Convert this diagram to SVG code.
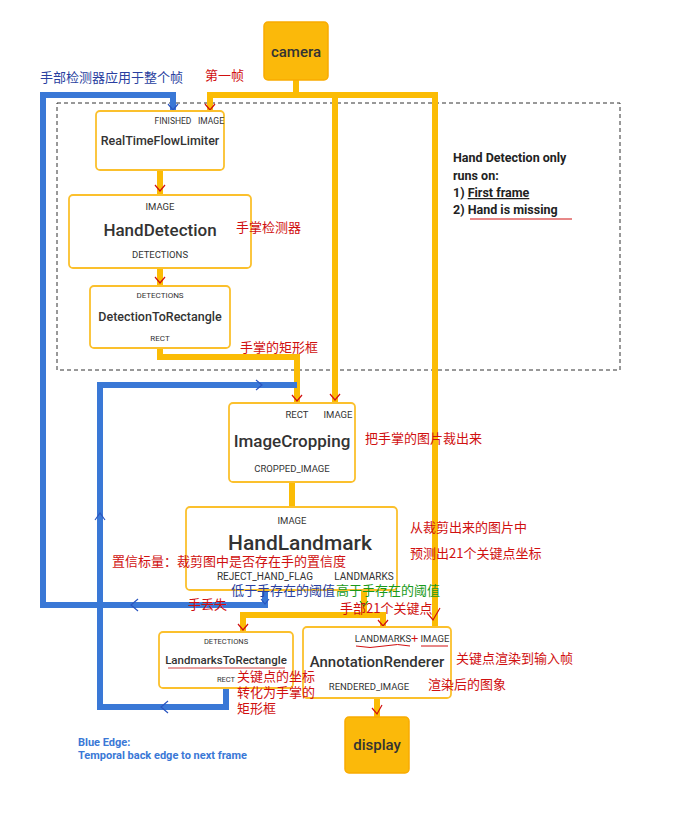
<svg xmlns="http://www.w3.org/2000/svg" width="682" height="825" viewBox="0 0 682 825">
<style>
.box{fill:#fff;stroke:#fbc02d;stroke-width:1.8}
.solid{fill:#fbb90a;stroke:#f9ab00;stroke-width:1.5}
.y{fill:none;stroke:#fbbc05;stroke-width:6}
.b{fill:none;stroke:#3a78d6;stroke-width:6}
.t{font-family:Roboto,"Liberation Sans",sans-serif;fill:#333;text-anchor:middle}
.port{font-size:9.5px}
.n{font-size:12.5px;font-weight:500}
.big{font-size:17px;font-weight:500}
.hw{font-family:"Noto Sans CJK SC",sans-serif;fill:#d01010;font-size:13px}
.ck{fill:none;stroke:#d01010;stroke-width:1.2}
.bc{fill:none;stroke:#2a55c0;stroke-width:1.2}
</style>
<rect width="682" height="825" fill="#fff"/>
<rect x="57" y="103" width="563" height="267" fill="none" stroke="#333" stroke-dasharray="4,3" stroke-width="1"/>
<g id="connectors">
<path class="y" d="M296 80V95M210 111V95H435V627M335 95V403M160 170V195M160 268V286M160 348V357H297V403M292 482V507M364 590V615M243 632V615H383V627M377 698V717"/>
<path class="b" d="M297 385H100V707H226V688M265 590V605H43V95H173V111"/>
<path class="ck" d="M205 104l5 6 5-6M155 185l5 6 5-6M155 277l5 6 5-6M292 395l5 6 5-6M330 394l5 6 5-6M238 624l5 6 5-6M378 620l5 6 5-6M428 614l5 6 7-12M372 708l5 6 5-9"/>
<path class="bc" d="M168 104l5 6 5-6M256 380l6 5-6 5M95 520l5-7 5 7M138 599l-7 6 7 6M168 701l-7 6 7 6M261 599l4 5 4-5"/>
<path d="M360 601l4 5 4-5" fill="none" stroke="#1a9a1a" stroke-width="1.2"/>
</g>
<g id="camera"><rect class="solid" x="264" y="22" width="64" height="58" rx="4"/><text class="t" x="296" y="57" font-size="15" font-weight="500">camera</text></g>
<g id="rtfl"><rect class="box" x="96" y="111" width="128" height="59" rx="4"/><text class="t" font-size="8.5" x="173" y="124">FINISHED</text><text class="t" font-size="8.5" x="211" y="124">IMAGE</text><text class="t n" x="160" y="145">RealTimeFlowLimiter</text></g>
<g id="hd"><rect class="box" x="69" y="195" width="182" height="73" rx="4"/><text class="t port" x="160" y="210">IMAGE</text><text class="t big" x="160" y="236">HandDetection</text><text class="t port" x="160" y="258">DETECTIONS</text></g>
<g id="dtr"><rect class="box" x="90" y="286" width="140" height="62" rx="4"/><text class="t" font-size="8" x="160" y="298">DETECTIONS</text><text class="t n" x="160" y="321">DetectionToRectangle</text><text class="t" font-size="8" x="160" y="341">RECT</text></g>
<g id="ic"><rect class="box" x="229" y="403" width="126" height="79" rx="4"/><text class="t port" x="297" y="418">RECT</text><text class="t port" x="338" y="418">IMAGE</text><text class="t big" x="292" y="447">ImageCropping</text><text class="t port" x="292" y="472">CROPPED_IMAGE</text></g>
<g id="hl"><rect class="box" x="186" y="507" width="211" height="83" rx="4"/><text class="t port" x="292" y="524">IMAGE</text><text class="t" x="300" y="550" font-size="21" font-weight="500">HandLandmark</text><text class="t" font-size="10" x="265" y="580">REJECT_HAND_FLAG</text><text class="t" font-size="10" x="364" y="580">LANDMARKS</text></g>
<g id="ltr"><rect class="box" x="159" y="632" width="134" height="56" rx="4"/><text class="t" font-size="7.5" x="226" y="644">DETECTIONS</text><text class="t" font-size="11.5" font-weight="500" x="226" y="664">LandmarksToRectangle</text><text class="t" font-size="7.5" x="226" y="682">RECT</text><path d="M168 668H285" stroke="#d04040" stroke-width="1"/></g>
<g id="ar"><rect class="box" x="303" y="627" width="148" height="71" rx="4"/><text class="t port" x="383" y="642">LANDMARKS</text><text class="t port" x="435" y="642">IMAGE</text><text class="t" font-size="15" font-weight="500" x="377" y="667">AnnotationRenderer</text><text class="t port" x="369" y="690">RENDERED_IMAGE</text><path d="M356 646q14 3 28 0t26 0M421 646h27" fill="none" stroke="#d01010" stroke-width="1"/><text class="hw" x="411" y="643" font-size="10">+</text></g>
<g id="display"><rect class="solid" x="345" y="717" width="64" height="56" rx="4"/><text class="t" x="377" y="750" font-size="15" font-weight="500">display</text></g>
<g id="notes">
<text font-family="Roboto,'Liberation Sans',sans-serif" font-size="12.5" font-weight="bold" fill="#222"><tspan x="453" y="162">Hand Detection only</tspan><tspan x="453" y="180">runs on:</tspan><tspan x="453" y="197">1) <tspan text-decoration="underline">First frame</tspan></tspan><tspan x="453" y="214">2) Hand is missing</tspan></text>
<path d="M470 219H572" stroke="#d01010" stroke-width="1"/>
<text font-family="Roboto,'Liberation Sans',sans-serif" font-size="11" font-weight="bold" fill="#3a78d6"><tspan x="78" y="746">Blue Edge:</tspan><tspan x="78" y="759">Temporal back edge to next frame</tspan></text>
<text class="hw" x="40" y="82" style="fill:#2a3fa0" font-size="14">手部检测器应用于整个帧</text>
<text class="hw" x="205" y="80" font-size="14">第一帧</text>
<text class="hw" x="236" y="232" font-size="14">手掌检测器</text>
<text class="hw" x="240" y="352" font-size="14">手掌的矩形框</text>
<text class="hw" x="365" y="443" font-size="15">把手掌的图片裁出来</text>
<text class="hw" x="410" y="532" font-size="15">从裁剪出来的图片中</text>
<text class="hw" x="410" y="558" font-size="15">预测出21个关键点坐标</text>
<text class="hw" x="112" y="566" font-size="10">置信标量：裁剪图中是否存在手的置信度</text>
<text class="hw" x="231" y="595" font-size="9" style="fill:#2a3fa0">低于手存在的阈值</text>
<text class="hw" x="336" y="595" font-size="9" style="fill:#1a9a1a">高于手存在的阈值</text>
<text class="hw" x="188" y="609" font-size="13">手丢失</text>
<text class="hw" x="340" y="613" font-size="10.5">手部21个关键点</text>
<text class="hw" x="237" y="681" font-size="11">关键点的坐标</text>
<text class="hw" x="237" y="697" font-size="11">转化为手掌的</text>
<text class="hw" x="237" y="713" font-size="11">矩形框</text>
<text class="hw" x="456" y="663" font-size="11">关键点渲染到输入帧</text>
<text class="hw" x="428" y="689" font-size="11">渲染后的图象</text>
</g>
</svg>
